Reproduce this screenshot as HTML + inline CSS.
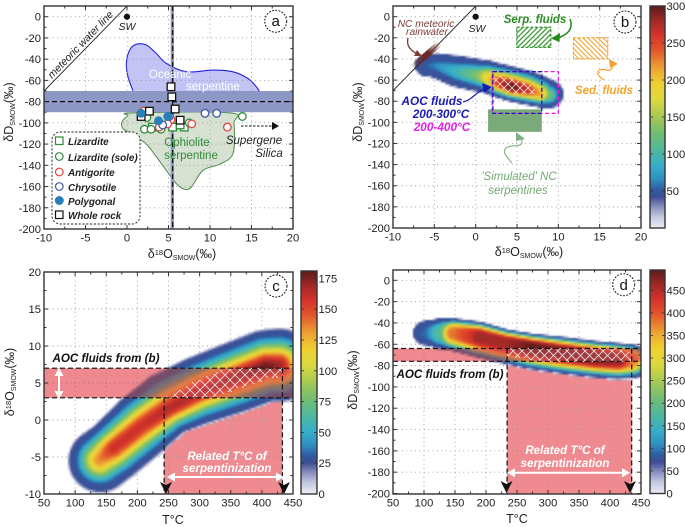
<!DOCTYPE html>
<html>
<head>
<meta charset="utf-8">
<title>Isotope panels</title>
<style>
html,body{margin:0;padding:0;background:#fff}
svg{display:block;font-family:"Liberation Sans",sans-serif}
.t{font-size:11.2px;fill:#222}
.bi{font-weight:bold;font-style:italic}
.it{font-style:italic}
</style>
</head>
<body>
<svg id="chart" width="685" height="527" viewBox="0 0 685 527" xmlns="http://www.w3.org/2000/svg">
<defs>
<pattern id="hatch-c" width="10" height="10" patternUnits="userSpaceOnUse"><path d="M-1 -1L11 11M-1 11L11 -1" stroke="#fff" stroke-width="0.8" fill="none" opacity="0.85"/></pattern>
<pattern id="hatch-b" width="8" height="8" patternUnits="userSpaceOnUse"><path d="M-1 -1L9 9M-1 9L9 -1" stroke="#fff" stroke-width="0.8" fill="none" opacity="0.85"/></pattern>
<pattern id="hatch-d" width="9" height="9" patternUnits="userSpaceOnUse"><path d="M-1 -1L10 10M-1 10L10 -1" stroke="#fff" stroke-width="0.8" fill="none" opacity="0.85"/></pattern>
<pattern id="hatch-serp" width="5" height="5" patternUnits="userSpaceOnUse"><path d="M-1 6L6 -1M-1 1L1 -1M4 6L6 4" stroke="#3a9a32" stroke-width="1.3" fill="none"/></pattern>
<pattern id="hatch-sed" width="5" height="5" patternUnits="userSpaceOnUse"><path d="M-1 -1L6 6M-1 4L1 6M4 -1L6 1" stroke="#f6a32e" stroke-width="1.1" fill="none"/></pattern>
<clipPath id="clip-a"><rect x="44" y="6" width="249" height="223"/></clipPath>
<clipPath id="clip-b"><rect x="393" y="6" width="248" height="222"/></clipPath>
<clipPath id="clip-c"><rect x="44" y="272" width="249" height="222"/></clipPath>
<clipPath id="clip-d"><rect x="393" y="270" width="248" height="224"/></clipPath>
<filter id="soft" x="-5%" y="-5%" width="110%" height="110%"><feGaussianBlur stdDeviation="0.7"/></filter>
<linearGradient id="nc-fade" x1="0" y1="1" x2="1" y2="0">
<stop offset="0" stop-color="#6b2a25" stop-opacity="0"/><stop offset="0.45" stop-color="#6b2a25"/><stop offset="0.6" stop-color="#6b2a25"/><stop offset="1" stop-color="#6b2a25" stop-opacity="0"/>
</linearGradient>
</defs>

<rect x="0" y="0" width="685" height="527" fill="#fff"/>

<g id="panel-a"></g>
<g id="panel-b"></g>
<g id="panel-c"></g>
<g id="panel-d"></g>

<!-- panel a annotations -->
<g>
<text x="170" y="78" text-anchor="middle" font-size="11.5" fill="#fff">Oceanic</text>
<text x="213" y="90" text-anchor="middle" font-size="11.5" fill="#fff">serpentine</text>
<text x="187" y="146" text-anchor="middle" font-size="11.5" fill="#2f8a3a">Ophiolite</text>
<text x="191" y="159" text-anchor="middle" font-size="11.5" fill="#2f8a3a">serpentine</text>
<text x="254" y="144" text-anchor="middle" font-size="11.5" class="it" fill="#222">Supergene</text>
<text x="269" y="157" text-anchor="middle" font-size="11.5" class="it" fill="#222">Silica</text>
<line x1="241" y1="126" x2="274" y2="126" stroke="#111" stroke-width="1.1" stroke-dasharray="2.5 1.5"/>
<polygon points="279,126 272,122 272,130" fill="#111"/>
<text x="0" y="0" transform="translate(83 47) rotate(-46)" text-anchor="middle" font-size="10.6" class="it" fill="#222">meteoric water line</text>
<text x="127" y="30" text-anchor="middle" font-size="10.5" class="it" fill="#222">SW</text>
<circle cx="275.7" cy="21.3" r="11" fill="#fff" stroke="#111" stroke-width="1" stroke-dasharray="1.8 1.4"/>
<text x="275.7" y="26" text-anchor="middle" font-size="15" fill="#111">a</text>
<rect x="52" y="132" width="88" height="92" rx="8" fill="#fff" stroke="#222" stroke-width="0.9" stroke-dasharray="2.2 1.6"/>
<rect x="55.5" y="137" width="7.5" height="7.5" fill="#fff" stroke="#2f8a3a" stroke-width="1.2"/>
<circle cx="59.3" cy="156.5" r="3.8" fill="#fff" stroke="#2f8a3a" stroke-width="1.2"/>
<circle cx="59.3" cy="172" r="3.8" fill="#fff" stroke="#e0453c" stroke-width="1.2"/>
<circle cx="59.3" cy="186.5" r="3.8" fill="#fff" stroke="#4158a6" stroke-width="1.2"/>
<circle cx="59.3" cy="200.5" r="4" fill="#2a7fb8" stroke="#2a7fb8" stroke-width="1"/>
<rect x="55.5" y="211" width="7.5" height="7.5" fill="#fff" stroke="#111" stroke-width="1.2"/>
<g font-size="9.9" class="bi" fill="#222">
<text x="68" y="145">Lizardite</text>
<text x="68" y="161">Lizardite (sole)</text>
<text x="68" y="176">Antigorite</text>
<text x="68" y="191">Chrysotile</text>
<text x="68" y="205">Polygonal</text>
<text x="68" y="219">Whole rock</text>
</g>
</g>

<!-- panel b annotations -->
<g>
<line x1="412" y1="68" x2="440" y2="43" stroke="url(#nc-fade)" stroke-width="6.5"/>
<text x="426" y="27" text-anchor="middle" font-size="10.2" class="it" fill="#7d3c37">NC meteoric</text>
<text x="427" y="35" text-anchor="middle" font-size="10.2" class="it" fill="#7d3c37">rainwater</text>
<path d="M408 38C406 46 411 51 418 54" fill="none" stroke="#7d3c37" stroke-width="1.3"/>
<polygon points="422,56 414,56 417,50" fill="#7d3c37"/>
<text x="477" y="32" text-anchor="middle" font-size="10.5" class="it" fill="#222">SW</text>
<text x="535" y="23" text-anchor="middle" font-size="11.5" class="bi" fill="#2a8c22">Serp. fluids</text>
<path d="M570 19C574 30 566 36 556 38" fill="none" stroke="#1f8a14" stroke-width="1.5"/>
<polygon points="551,38.5 560,33 559.5,42" fill="#1f8a14"/>
<text x="604" y="94" text-anchor="middle" font-size="11.5" class="bi" fill="#f6a32e">Sed. fluids</text>
<path d="M604 80C592 72 600 68 606 70C612 72 614 66 612 62" fill="none" stroke="#f6a32e" stroke-width="1.2"/>
<polygon points="609,59 618,64 610,68" fill="#f6a32e"/>
<text x="432" y="105" text-anchor="middle" font-size="11.8" class="bi" fill="#1a1ab4">AOC fluids</text>
<text x="441" y="118" text-anchor="middle" font-size="11.8" class="bi" fill="#1a1ab4">200-300°C</text>
<text x="442" y="131" text-anchor="middle" font-size="11.8" class="bi" fill="#e61ee6">200-400°C</text>
<path d="M463 102C472 100 476 92 486 88" fill="none" stroke="#1a1ab4" stroke-width="1.2"/>
<polygon points="492,87 482,83 484,93" fill="#1a1ab4"/>
<path d="M512 163C506 156 502 152 506 148C510 144 522 148 522 142C522 138 519 137 518 135" fill="none" stroke="#7fb07f" stroke-width="1.1"/>
<polygon points="516,132 525,139 516,141" fill="#7fb07f"/>
<text x="519" y="180" text-anchor="middle" font-size="11.5" class="it" fill="#74a874">'Simulated' NC</text>
<text x="518" y="194" text-anchor="middle" font-size="11.5" class="it" fill="#74a874">serpentines</text>
<circle cx="625" cy="22" r="11" fill="#fff" stroke="#111" stroke-width="1" stroke-dasharray="1.8 1.4"/>
<text x="625" y="27" text-anchor="middle" font-size="15" fill="#111">b</text>
</g>

<!-- panel c annotations -->
<g>
<text x="106" y="362" text-anchor="middle" font-size="11.6" class="bi" fill="#111">AOC fluids from (b)</text>
<line x1="59" y1="372" x2="59" y2="395" stroke="#fff" stroke-width="2"/>
<polygon points="59,368 54.5,376 63.5,376" fill="#fff"/>
<polygon points="59,399 54.5,391 63.5,391" fill="#fff"/>
<text x="227" y="460" text-anchor="middle" font-size="11.6" class="bi" fill="#fff">Related T°C of</text>
<text x="227" y="472" text-anchor="middle" font-size="11.6" class="bi" fill="#fff">serpentinization</text>
<line x1="172" y1="477" x2="279" y2="477" stroke="#fff" stroke-width="2"/>
<polygon points="167,477 175,472.5 175,481.5" fill="#fff"/>
<polygon points="284,477 276,472.5 276,481.5" fill="#fff"/>
<polygon points="166,494 160,482 166,485 172,482" fill="#111"/>
<polygon points="284,494 278,482 284,485 290,482" fill="#111"/>
<circle cx="276" cy="286" r="11" fill="#fff" stroke="#111" stroke-width="1" stroke-dasharray="1.8 1.4"/>
<text x="276" y="291" text-anchor="middle" font-size="15" fill="#111">c</text>
</g>

<!-- panel d annotations -->
<g>
<text x="450" y="378" text-anchor="middle" font-size="11.6" class="bi" fill="#111">AOC fluids from (b)</text>
<text x="565" y="454" text-anchor="middle" font-size="11.6" class="bi" fill="#fff">Related T°C of</text>
<text x="565" y="467" text-anchor="middle" font-size="11.6" class="bi" fill="#fff">serpentinization</text>
<line x1="512" y1="472.7" x2="625" y2="472.7" stroke="#fff" stroke-width="2"/>
<polygon points="507,472.7 515,468.2 515,477.2" fill="#fff"/>
<polygon points="630,472.7 622,468.2 622,477.2" fill="#fff"/>
<polygon points="506.5,493 500.5,481 506.5,484 512.5,481" fill="#111"/>
<polygon points="630,493 624,481 630,484 636,481" fill="#111"/>
<circle cx="623.7" cy="284.7" r="11" fill="#fff" stroke="#111" stroke-width="1" stroke-dasharray="1.8 1.4"/>
<text x="623.7" y="290" text-anchor="middle" font-size="15" fill="#111">d</text>
</g>

<!-- axis titles -->
<g font-size="12.5" fill="#222">
<text transform="translate(13 112) rotate(-90)" text-anchor="middle">δD<tspan font-size="7" dy="2">SMOW</tspan><tspan dy="-2">(‰)</tspan></text>
<text x="182" y="258" text-anchor="middle">δ<tspan font-size="7.5" dy="-3">18</tspan><tspan dy="3">O</tspan><tspan font-size="7" dy="2">SMOW</tspan><tspan dy="-2">(‰)</tspan></text>
<text transform="translate(362 112) rotate(-90)" text-anchor="middle">δD<tspan font-size="7" dy="2">SMOW</tspan><tspan dy="-2">(‰)</tspan></text>
<text x="529" y="256" text-anchor="middle">δ<tspan font-size="7.5" dy="-3">18</tspan><tspan dy="3">O</tspan><tspan font-size="7" dy="2">SMOW</tspan><tspan dy="-2">(‰)</tspan></text>
<text transform="translate(14 382) rotate(-90)" text-anchor="middle">δ<tspan font-size="7.5" dy="-3">18</tspan><tspan dy="3">O</tspan><tspan font-size="7" dy="2">SMOW</tspan><tspan dy="-2">(‰)</tspan></text>
<text x="173" y="524" text-anchor="middle">T°C</text>
<text transform="translate(357 380) rotate(-90)" text-anchor="middle">δD<tspan font-size="7" dy="2">SMOW</tspan><tspan dy="-2">(‰)</tspan></text>
<text x="517" y="523" text-anchor="middle">T°C</text>
</g>
</svg>

<script>
// ---------- shared axis ticks ----------
const deltaOTicks = [-10,-5,0,5,10,15,20];
const deltaDTicks = [0,-20,-40,-60,-80,-100,-120,-140,-160,-180,-200];
const tempTicks = [50,100,150,200,250,300,350,400,450];
const panelCYTicks = [-10,-5,0,5,10,15,20];

// ---------- colormap ----------
const cmapPos = [0,.05,.1,.14,.17,.22,.28,.35,.42,.5,.58,.65,.72,.8,.87,.93,1];
const cmapHex = ['#ecedf5','#c4c8e0','#8389bc','#3d4e96','#2f5a9f','#2f8fc3','#36aec9','#4fb8a0','#6dbd74','#a5c852','#dcd93f','#f0d030','#eda234','#e2572c','#d6322c','#a32a28','#5b1a1a'];

// ---------- panel a data ----------
const lizarditeX = [3.05,5.5,6.9,6.4];
const lizarditeY = [-104,-104,-104,-102];
const soleX = [2.1,2.9,2.4,13.9,7.5,4.1];
const soleY = [-106,-106,-95,-94,-100,-106];
const antigoriteX = [2,12.1,7.8,5.3,3.9,4.9];
const antigoriteY = [-89,-104,-101,-97,-104,-101];
const chrysotileX = [9.4,10.8,4.3,5.1];
const chrysotileY = [-91,-91,-102,-94];
const wholeRockX = [5.3,5.4,5.8,6.4,2.7,1.7];
const wholeRockY = [-66,-75.5,-87,-97.5,-89,-94];
const polygonalX = [1.7,3.8,4.9];
const polygonalY = [-91,-98,-94];
const oceanicX = [.72,.12,-.08,.32,1.12,2.33,3.53,4.74,7.15,10.36,12.77,14.58,15.58,15.98];
const oceanicY = [-69.8,-56.6,-44,-31.4,-26,-26.7,-34.6,-44,-51.9,-50.3,-51.9,-58.2,-66,-70.8];
const ophioliteX = [.12,.72,12.37,12.89,12.77,11.16,9.16,7.75,6.95,5.94,4.74,3.53,2.33,.72,-.48,-.6];
const ophioliteY = [-92.8,-90.6,-90.6,-100.6,-128.9,-139,-144.7,-160.4,-162.6,-157.2,-144.7,-132,-120,-111.6,-105.3,-99];
const naturalBandD = [-90,-70,-80];
const naturalBandO = [5.26,5.66,5.5];
const meteoricO = [-10,0];
const meteoricD = [-70,10];
const seawaterO = [0];
const seawaterD = [0];

// ---------- panel b density ridge ----------
const bRidgeO = [-6.09,-4.68,-2.27,.15,1.36,2.97,4.38,6.19,7.8,8.81];
const bRidgeD = [-46.7,-46.7,-52,-55.2,-57.4,-63,-66.9,-69.4,-73.5,-74.8];
const bRidgePeak = [50,65,95,135,190,270,300,265,210,130];
const bRidgeUp = [11,12.6,15.8,15.8,16.7,19,20.2,19,18,15.8];
const bRidgeDown = [9.5,12,14.8,15.8,15,14.2,13.6,14.2,12.6,12];
const bCbarTicks = [50,100,150,200,250,300];
const bCbarMax = [300];
const serpFluidO = [4.98,9.09];
const serpFluidD = [-10,-29];
const sedFluidO = [11.83,15.98];
const sedFluidD = [-20,-40];
const simulatedO = [1.5,8];
const simulatedD = [-87.7,-109];
const aoc300O = [2.08,8];
const aoc400O = [2,10];
const aocD = [-52,-91.5];
const bHatchLevel = [225];

// ---------- panel c density ridge ----------
const cRidgeT = [139.4,160.8,209,251.9,300,353.6,407,427.5];
const cRidgeO = [-5.4,-3.8,-.7,1.55,3.8,5.6,7.2,7.3];
const cRidgePeak = [135,160,160,165,165,170,178,170];
const cRidgeUp = [4.3,4.05,4.7,5.2,4.95,4.95,5.1,5.2];
const cRidgeDown = [4.5,4.7,4.5,3.8,4.5,4.85,4.8,4.95];
const cCbarTicks = [0,25,50,75,100,125,150,175];
const cCbarMax = [181];
const cBand = [3,7];
const cTempRange = [243,433];
const cHatchLevel = [130];

// ---------- panel d density ridge ----------
const dRidgeT = [102.1,126.2,147.7,188,230.9,273.9,322.2,375.9,413.5,435];
const dRidgeD = [-50.2,-49.3,-49.3,-52.4,-58.1,-62.8,-67.5,-71.3,-73.2,-73.8];
const dRidgePeak = [90,180,380,460,460,490,480,480,470,380];
const dRidgeUp = [12.6,14.1,14.1,14.1,12.6,13.2,15,14.8,14.8,14.1];
const dRidgeDown = [11,15.7,17.3,20.4,20.4,21,20.4,20.4,20.1,18.8];
const dCbarTicks = [0,50,100,150,200,250,300,350,400,450];
const dCbarMax = [495];
const dBand = [-76,-64];
const dTempRange = [234,435];
const dHatchLevel = [340];

// ---------- helpers ----------
const NS = 'http://www.w3.org/2000/svg';
function el(tag, parent, props){
  const e = document.createElementNS(NS, tag);
  for (const k in props) e.setAttribute(k, props[k]);
  parent.appendChild(e);
  return e;
}
function linear(d0,d1,r0,r1){ return v => r0 + (v-d0)/(d1-d0)*(r1-r0); }
function hexRgb(h){ return [parseInt(h.slice(1,3),16),parseInt(h.slice(3,5),16),parseInt(h.slice(5,7),16)]; }
const cmapRgb = cmapHex.map(hexRgb);
function cmap(f){
  f = Math.max(0,Math.min(1,f));
  let i = 0;
  while (i < cmapPos.length-2 && f > cmapPos[i+1]) i++;
  const u = (f-cmapPos[i])/(cmapPos[i+1]-cmapPos[i]);
  const a = cmapRgb[i], b = cmapRgb[i+1];
  return 'rgb('+Math.round(a[0]+(b[0]-a[0])*u)+','+Math.round(a[1]+(b[1]-a[1])*u)+','+Math.round(a[2]+(b[2]-a[2])*u)+')';
}
function smoothPath(xs, ys){
  let d = 'M'+xs[0].toFixed(1)+' '+ys[0].toFixed(1);
  const n = xs.length;
  for (let i=0;i<n-1;i++){
    const p0 = i>0?i-1:i, p3 = i+2<n?i+2:i+1;
    const c1x = xs[i]+(xs[i+1]-xs[p0])/6, c1y = ys[i]+(ys[i+1]-ys[p0])/6;
    const c2x = xs[i+1]-(xs[p3]-xs[i])/6, c2y = ys[i+1]-(ys[p3]-ys[i])/6;
    d += 'C'+c1x.toFixed(1)+' '+c1y.toFixed(1)+' '+c2x.toFixed(1)+' '+c2y.toFixed(1)+' '+xs[i+1].toFixed(1)+' '+ys[i+1].toFixed(1);
  }
  return d;
}

function drawGrid(g, box, sx, sy, xt, yt){
  xt.forEach(v => {
    const l = el('line', g, {x1:sx(v),x2:sx(v),y1:box.top,y2:box.bottom,stroke:'#999','stroke-width':.9,'stroke-dasharray':'1 3.4'});
    
    
  });
  yt.forEach(v => {
    const l = el('line', g, {x1:box.left,x2:box.right,y1:sy(v),y2:sy(v),stroke:'#999','stroke-width':.9,'stroke-dasharray':'1 3.4'});
    
    
  });
}

function drawFrame(g, box, sx, sy, xt, yt){
  const tick = (x1,y1,x2,y2) => {
    const l = el('line', g, {x1,y1,x2,y2,stroke:'#333','stroke-width':1});
    
    
  };
  xt.forEach((v,i) => {
    const x = sx(v);
    tick(x,box.bottom,x,box.bottom-4);
    tick(x,box.top,x,box.top+4);
    if (i < xt.length-1){
      const m = sx((v+xt[i+1])/2);
      tick(m,box.bottom,m,box.bottom-2.5);
      tick(m,box.top,m,box.top+2.5);
    }
    const t = el('text', g, {x:x,y:box.bottom+12.5,'text-anchor':'middle',class:'t'});
    t.textContent = v;
    
    
  });
  yt.forEach((v,i) => {
    const y = sy(v);
    tick(box.left,y,box.left+4,y);
    tick(box.right,y,box.right-4,y);
    if (i < yt.length-1){
      const m = sy((v+yt[i+1])/2);
      tick(box.left,m,box.left+2.5,m);
      tick(box.right,m,box.right-2.5,m);
    }
    const t = el('text', g, {x:box.left-3,y:y+4,'text-anchor':'end',class:'t'});
    t.textContent = v;
    
    
  });
  const f = el('rect', g, {x:box.left,y:box.top,width:box.right-box.left,height:box.bottom-box.top,fill:'none',stroke:'#333','stroke-width':1.4});
  
  
}

function drawColorbar(g, box, ticks, maxV){
  const sy = linear(0,maxV,box.bottom,box.top);
  const gradId = 'grad-'+box.id;
  const defs = document.querySelector('defs');
  const grad = el('linearGradient', defs, {id:gradId,x1:0,y1:1,x2:0,y2:0});
  cmapPos.forEach((p,i) => { el('stop', grad, {offset:p,'stop-color':cmapHex[i]}); });
  const r = el('rect', g, {x:box.left,y:box.top,width:box.right-box.left,height:box.bottom-box.top,fill:'url(#'+gradId+')',stroke:'#333','stroke-width':1.4});
  
  
  ticks.forEach(v => {
    const y = sy(v);
    if (v > 0 && v < maxV){
      const a = el('line', g, {x1:box.left,x2:box.left+3,y1:y,y2:y,stroke:'#333','stroke-width':.8});
      
      
      const b = el('line', g, {x1:box.right,x2:box.right-3,y1:y,y2:y,stroke:'#333','stroke-width':.8});
      
      
    }
    const t = el('text', g, {x:box.right+1.5,y:Math.max(box.top+4,y+4),class:'t'});
    t.textContent = v;
    
    
  });
}

// density field from a ridge: nearest-segment distance, asymmetric half-width, peak along ridge,
// with a saturated dark-blue rim (floor level) that fades only in the final few percent of the width
function densityField(xs, ys, peak, up, down, sx, sy, k, n, maxV){
  const px = xs.map(sx), py = ys.map(sy);
  const unit = Math.abs(sy(1)-sy(0));
  const floor = .15*maxV, edge = .03*maxV;
  return function(x,y){
    let best = 0;
    for (let i=0;i<px.length-1;i++){
      const dx = px[i+1]-px[i], dy = py[i+1]-py[i], len2 = dx*dx+dy*dy;
      let u = ((x-px[i])*dx+(y-py[i])*dy)/len2;
      u = Math.max(0,Math.min(1,u));
      const qx = px[i]+dx*u, qy = py[i]+dy*u;
      const ex = x-qx, ey = y-qy, d = Math.hypot(ex,ey);
      const cross = d > 1e-6 ? (dx*ey-dy*ex)/(d*Math.sqrt(len2)) : 0;
      const w = (1-cross)/2;
      const pk = peak[i]+(peak[i+1]-peak[i])*u;
      const uH = (up[i]+(up[i+1]-up[i])*u)*unit;
      const dH = (down[i]+(down[i+1]-down[i])*u)*unit;
      const t = d/(uH*w+dH*(1-w));
      if (t <= 1){
        const rim = t < .93 ? floor : floor+(edge-floor)*(t-.93)/.07;
        const lv = Math.max(pk*Math.exp(-k*Math.pow(t,n)), rim);
        if (lv > best) best = lv;
      }
    }
    return best;
  };
}

function drawHeat(g, box, field, maxV){
  const step = 2;
  for (let y=box.top; y<box.bottom; y+=step){
    for (let x=box.left; x<box.right; x+=step){
      const v = field(x+1,y+1);
      if (v <= 0) continue;
      const c = el('rect', g, {x:x,y:y,width:step+.4,height:step+.4,fill:cmap(v/maxV)});
      
      
    }
  }
}
function drawHatch(g, box, field, level, inside, pat){
  const step = 2;
  for (let y=box.top; y<box.bottom; y+=step){
    for (let x=box.left; x<box.right; x+=step){
      if (!inside(x+1,y+1) || field(x+1,y+1) < level) continue;
      const c = el('rect', g, {x:x,y:y,width:step,height:step,fill:'url(#'+pat+')','shape-rendering':'crispEdges'});
      
      
    }
  }
}
function dashed(g, x1,y1,x2,y2, name){
  const l = el('line', g, {x1,y1,x2,y2,stroke:'#111','stroke-width':1.2,'stroke-dasharray':'5 3'});
  
  
}
function pinkBand(g, x, y, w, h){
  const a = el('rect', g, {x,y,width:w,height:h,fill:'#ee8a90',style:'mix-blend-mode:multiply'});
  
  
  const b = el('rect', g, {x,y,width:w,height:h,fill:'#ee8a90','fill-opacity':.35});
  
  
}
function clipGroup(parent, id){
  const g = el('g', parent, {'clip-path':'url(#'+id+')'});
  
  
  return g;
}

// ---------- panel a ----------
(function(){
  const root = document.getElementById('panel-a');
  const box = {left:44,right:293,top:6,bottom:229};
  const sx = linear(-10,20,box.left,box.right), sy = linear(0,-200,16.7,box.bottom);
  const g = clipGroup(root,'clip-a');
  const oc = el('path', g, {d:smoothPath(oceanicX.map(sx),oceanicY.map(sy)),fill:'#c3c3f6',stroke:'#2323dc','stroke-width':1.1});
  
  
  const xs = ophioliteX.concat([ophioliteX[0]]).map(sx), ys = ophioliteY.concat([ophioliteY[0]]).map(sy);
  const op = el('path', g, {d:smoothPath(xs,ys)+'Z',fill:'#d6e1d2',stroke:'#4f8a4f','stroke-width':1});
  
  
  drawGrid(g, box, sx, sy, deltaOTicks, deltaDTicks);
  const hb = el('rect', g, {x:box.left,y:sy(naturalBandD[1]),width:box.right-box.left,height:sy(naturalBandD[0])-sy(naturalBandD[1]),fill:'#8d97c6'});
  
  
  const vb = el('rect', g, {x:sx(naturalBandO[0]),y:box.top,width:sx(naturalBandO[1])-sx(naturalBandO[0]),height:box.bottom-box.top,fill:'#8d97c6'});
  
  
  dashed(g, box.left, sy(naturalBandD[2]), box.right, sy(naturalBandD[2]), 'horizontal-band-center');
  dashed(g, sx(naturalBandO[2]), box.top, sx(naturalBandO[2]), box.bottom, 'vertical-band-center');
  const ml = el('line', g, {x1:sx(meteoricO[0]),y1:sy(meteoricD[0]),x2:sx(meteoricO[1]),y2:sy(meteoricD[1]),stroke:'#222','stroke-width':.9});
  
  
  seawaterO.forEach((v,i) => {
    const c = el('circle', g, {cx:sx(v),cy:sy(seawaterD[i]),r:3.1,fill:'#111'});
    
    
  });
  function squares(X,Y,stroke,name){
    X.forEach((v,i) => {
      const r = el('rect', g, {x:sx(v)-3.8,y:sy(Y[i])-3.8,width:7.6,height:7.6,fill:'#fff',stroke,'stroke-width':1.3});
      
      
    });
  }
  function circles(X,Y,fill,stroke,name){
    X.forEach((v,i) => {
      const c = el('circle', g, {cx:sx(v),cy:sy(Y[i]),r:3.8,fill,stroke,'stroke-width':1.3});
      
      
    });
  }
  squares(lizarditeX,lizarditeY,'#2f8a3a','lizardite-point');
  circles(soleX,soleY,'#fff','#2f8a3a','lizardite-sole-point');
  circles(antigoriteX,antigoriteY,'#fff','#e0453c','antigorite-point');
  circles(chrysotileX,chrysotileY,'#fff','#4158a6','chrysotile-point');
  squares(wholeRockX,wholeRockY,'#111','whole-rock-point');
  circles(polygonalX,polygonalY,'#2a7fb8','#2a7fb8','polygonal-point');
  drawFrame(root, box, sx, sy, deltaOTicks, deltaDTicks);
})();

// ---------- panel b ----------
(function(){
  const root = document.getElementById('panel-b');
  const box = {left:393,right:641,top:6,bottom:228};
  const sx = linear(-10,20,box.left,box.right), sy = linear(0,-200,16.7,box.bottom);
  const g = clipGroup(root,'clip-b');
  drawGrid(g, box, sx, sy, deltaOTicks, deltaDTicks);
  const heat = el('g', g, {filter:'url(#soft)'});
  
  
  const field = densityField(bRidgeO,bRidgeD,bRidgePeak,bRidgeUp,bRidgeDown,sx,sy,3,2.5,bCbarMax[0]);
  drawHeat(heat, box, field, bCbarMax[0]);
  const hatch = el('g', g, {});
  
  
  drawHatch(hatch, box, field, bHatchLevel[0], (x,y)=> x>sx(aoc300O[0]) && x<sx(aoc300O[1]) && y>sy(aocD[0]) && y<sy(aocD[1]), 'hatch-b');
  const ml = el('line', g, {x1:sx(meteoricO[0]),y1:sy(meteoricD[0]),x2:sx(meteoricO[1]),y2:sy(meteoricD[1]),stroke:'#222','stroke-width':.9});
  
  
  const sw = el('circle', g, {cx:sx(seawaterO[0]),cy:sy(seawaterD[0]),r:3.1,fill:'#111'});
  
  
  const s = el('rect', g, {x:sx(simulatedO[0]),y:sy(simulatedD[0]),width:sx(simulatedO[1])-sx(simulatedO[0]),height:sy(simulatedD[1])-sy(simulatedD[0]),fill:'#7aa97a'});
  
  
  const a = el('rect', g, {x:sx(serpFluidO[0]),y:sy(serpFluidD[0]),width:sx(serpFluidO[1])-sx(serpFluidO[0]),height:sy(serpFluidD[1])-sy(serpFluidD[0]),fill:'url(#hatch-serp)',stroke:'#3a9a32','stroke-width':1.2,'stroke-dasharray':'3 1.5'});
  
  
  const b = el('rect', g, {x:sx(sedFluidO[0]),y:sy(sedFluidD[0]),width:sx(sedFluidO[1])-sx(sedFluidO[0]),height:sy(sedFluidD[1])-sy(sedFluidD[0]),fill:'url(#hatch-sed)',stroke:'#f6a32e','stroke-width':1.1,'stroke-dasharray':'3 1.5'});
  
  
  const m = el('rect', g, {x:sx(aoc400O[0]),y:sy(aocD[0]),width:sx(aoc400O[1])-sx(aoc400O[0]),height:sy(aocD[1])-sy(aocD[0]),fill:'none',stroke:'#e61ee6','stroke-width':1.3,'stroke-dasharray':'4 2.5'});
  
  
  const u = el('rect', g, {x:sx(aoc300O[0]),y:sy(aocD[0]),width:sx(aoc300O[1])-sx(aoc300O[0]),height:sy(aocD[1])-sy(aocD[0]),fill:'none',stroke:'#1a1ab4','stroke-width':1.3,'stroke-dasharray':'4 2.5'});
  
  
  drawFrame(root, box, sx, sy, deltaOTicks, deltaDTicks);
  drawColorbar(root, {id:'b',left:650,right:665,top:6,bottom:228}, bCbarTicks, bCbarMax[0]);
})();

// ---------- panel c ----------
(function(){
  const root = document.getElementById('panel-c');
  const box = {left:44,right:293,top:272,bottom:494};
  const sx = linear(50,450,box.left,box.right), sy = linear(-10,20,box.bottom,box.top);
  const g = clipGroup(root,'clip-c');
  const pr = el('rect', g, {x:sx(cTempRange[0]),y:sy(cBand[0]),width:sx(cTempRange[1])-sx(cTempRange[0]),height:box.bottom-sy(cBand[0]),fill:'#ee8a90'});
  
  
  drawGrid(g, box, sx, sy, tempTicks, panelCYTicks);
  const heat = el('g', g, {filter:'url(#soft)'});
  
  
  const field = densityField(cRidgeT,cRidgeO,cRidgePeak,cRidgeUp,cRidgeDown,sx,sy,2.9,2.1,cCbarMax[0]);
  drawHeat(heat, box, field, cCbarMax[0]);
  pinkBand(g, box.left, sy(cBand[1]), box.right-box.left, sy(cBand[0])-sy(cBand[1]));
  const hatch = el('g', g, {});
  
  
  drawHatch(hatch, box, field, cHatchLevel[0], (x,y)=> x>sx(cTempRange[0]) && x<sx(cTempRange[1]) && y>sy(cBand[1]) && y<sy(cBand[0]), 'hatch-c');
  dashed(g, box.left, sy(cBand[1]), box.right, sy(cBand[1]), 'band-top-line');
  dashed(g, box.left, sy(cBand[0]), box.right, sy(cBand[0]), 'band-bottom-line');
  dashed(g, sx(cTempRange[0]), sy(cBand[0]), sx(cTempRange[0]), box.bottom, 'temp-min-line');
  dashed(g, sx(cTempRange[1]), sy(cBand[1]), sx(cTempRange[1]), box.bottom, 'temp-max-line');
  drawFrame(root, box, sx, sy, tempTicks, panelCYTicks);
  drawColorbar(root, {id:'c',left:301,right:317,top:271,bottom:494}, cCbarTicks, cCbarMax[0]);
})();

// ---------- panel d ----------
(function(){
  const root = document.getElementById('panel-d');
  const box = {left:393,right:641,top:270,bottom:494};
  const sx = linear(50,450,box.left,box.right), sy = linear(0,-200,280.3,493.5);
  const g = clipGroup(root,'clip-d');
  const pr = el('rect', g, {x:sx(dTempRange[0]),y:sy(dBand[0]),width:sx(dTempRange[1])-sx(dTempRange[0]),height:box.bottom-sy(dBand[0]),fill:'#ee8a90'});
  
  
  drawGrid(g, box, sx, sy, tempTicks, deltaDTicks);
  const heat = el('g', g, {filter:'url(#soft)'});
  
  
  const field = densityField(dRidgeT,dRidgeD,dRidgePeak,dRidgeUp,dRidgeDown,sx,sy,3.2,4,dCbarMax[0]);
  drawHeat(heat, box, field, dCbarMax[0]);
  pinkBand(g, box.left, sy(dBand[1]), box.right-box.left, sy(dBand[0])-sy(dBand[1]));
  const hatch = el('g', g, {});
  
  
  drawHatch(hatch, box, field, dHatchLevel[0], (x,y)=> x>sx(dTempRange[0]) && x<sx(dTempRange[1]) && y>sy(dBand[1]) && y<sy(dBand[0]), 'hatch-d');
  dashed(g, box.left, sy(dBand[1]), box.right, sy(dBand[1]), 'band-top-line');
  dashed(g, box.left, sy(dBand[0]), box.right, sy(dBand[0]), 'band-bottom-line');
  dashed(g, sx(dTempRange[0]), sy(dBand[1]), sx(dTempRange[0]), box.bottom, 'temp-min-line');
  dashed(g, sx(dTempRange[1]), sy(dBand[1]), sx(dTempRange[1]), box.bottom, 'temp-max-line');
  drawFrame(root, box, sx, sy, tempTicks, deltaDTicks);
  drawColorbar(root, {id:'d',left:650,right:665,top:270,bottom:493.5}, dCbarTicks, dCbarMax[0]);
})();
</script>
</body>
</html>
